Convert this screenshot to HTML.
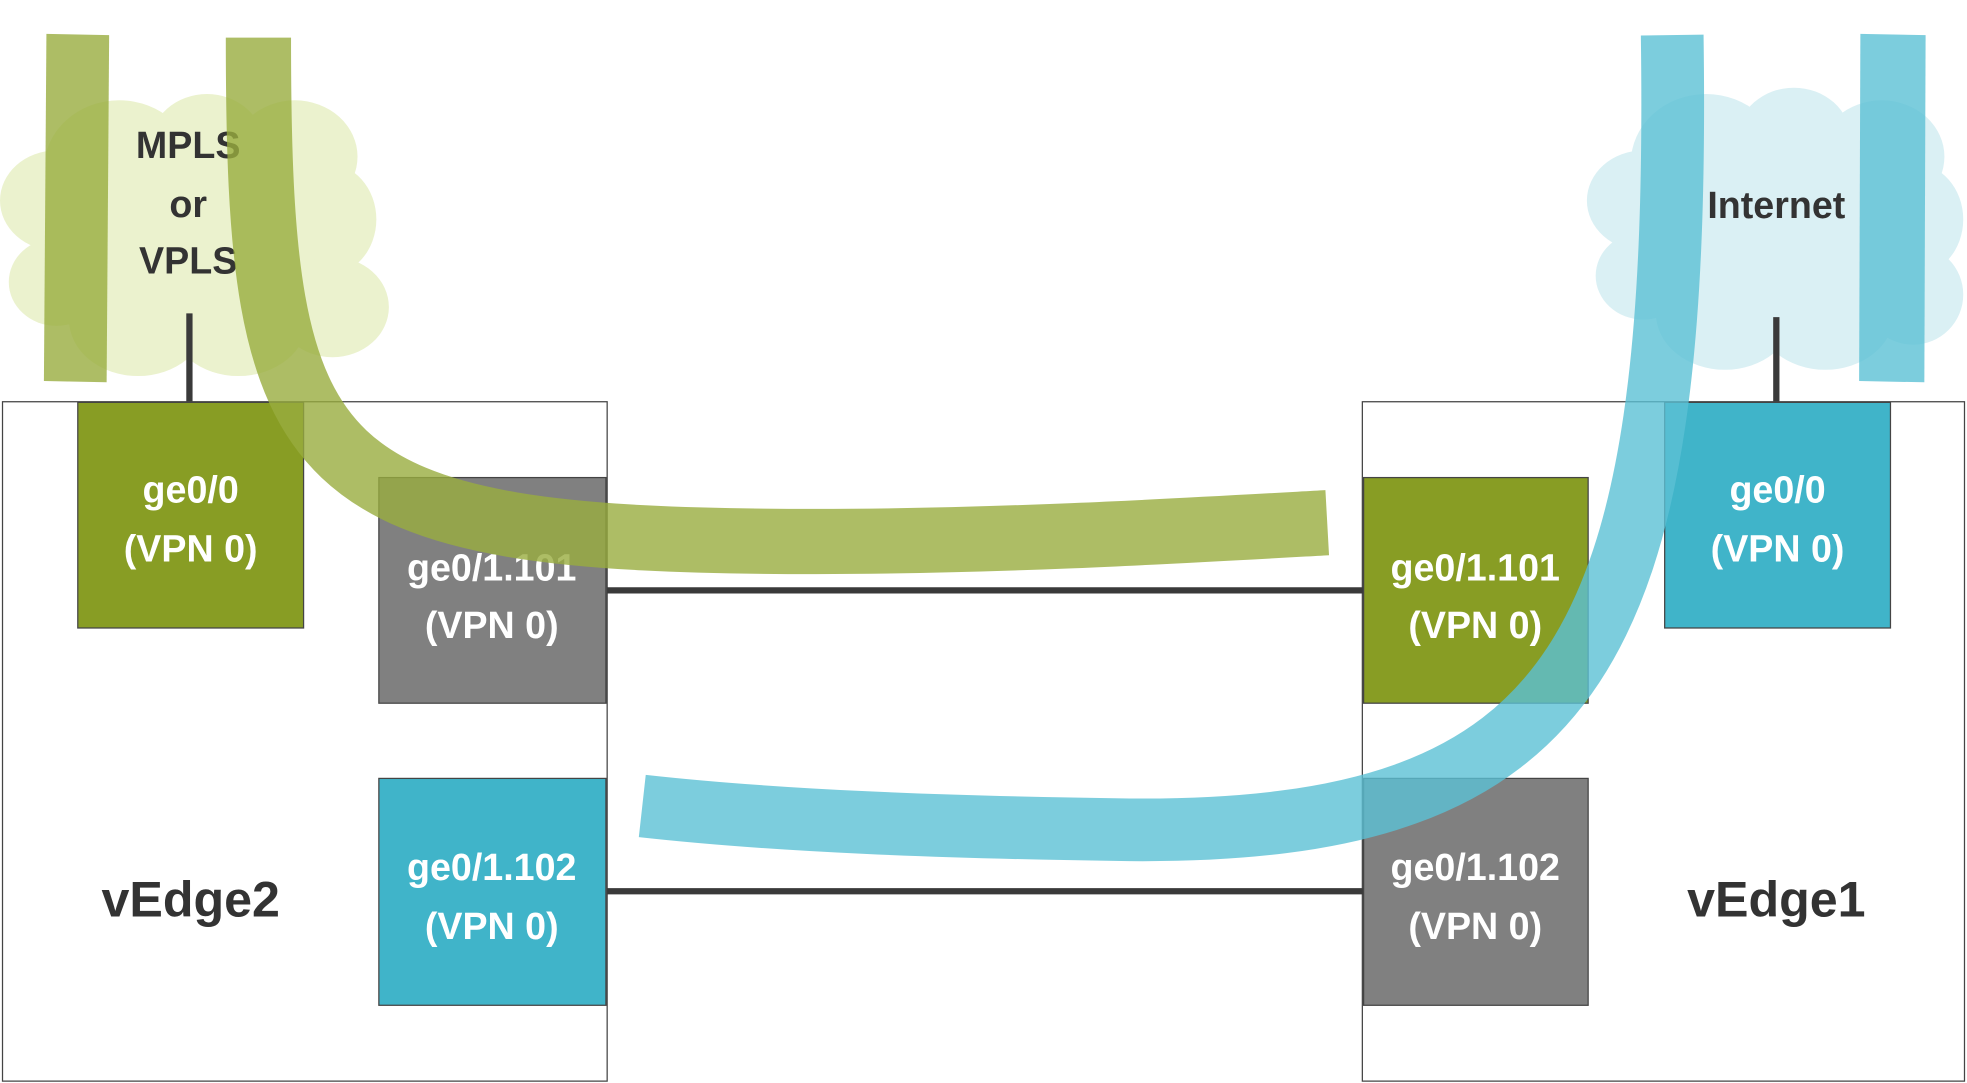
<!DOCTYPE html>
<html><head><meta charset="utf-8"><style>html,body{margin:0;padding:0;background:#fff}svg{display:block}</style></head><body>
<svg width="1967" height="1083" viewBox="0 0 1568 864" preserveAspectRatio="none" xmlns="http://www.w3.org/2000/svg" font-family="Liberation Sans, sans-serif" font-weight="bold">
<g fill="#EBF2CE">
<ellipse cx="150" cy="170" rx="120" ry="75"/><ellipse cx="95" cy="135" rx="60" ry="55"/><ellipse cx="165" cy="115" rx="45" ry="40"/><ellipse cx="235" cy="125" rx="50" ry="45"/><ellipse cx="260" cy="175" rx="40" ry="45"/><ellipse cx="45" cy="160" rx="45" ry="40"/><ellipse cx="45" cy="225" rx="38" ry="35"/><ellipse cx="110" cy="255" rx="55" ry="45"/><ellipse cx="190" cy="255" rx="55" ry="45"/><ellipse cx="265" cy="245" rx="45" ry="40"/>
</g>
<g fill="#DAF0F4">
<ellipse cx="1415" cy="170" rx="120" ry="75"/><ellipse cx="1360" cy="130" rx="60" ry="55"/><ellipse cx="1430" cy="110" rx="45" ry="40"/><ellipse cx="1500" cy="125" rx="50" ry="45"/><ellipse cx="1525" cy="175" rx="40" ry="45"/><ellipse cx="1310" cy="160" rx="45" ry="40"/><ellipse cx="1310" cy="220" rx="38" ry="35"/><ellipse cx="1375" cy="250" rx="55" ry="45"/><ellipse cx="1455" cy="250" rx="55" ry="45"/><ellipse cx="1525" cy="235" rx="40" ry="40"/>
</g>
<g fill="#333" font-size="30" text-anchor="middle">
<text x="150" y="126">MPLS</text><text x="150" y="173">or</text><text x="150" y="218">VPLS</text>
<text x="1416" y="174">Internet</text>
</g>
<line x1="151" y1="250" x2="151" y2="321" stroke="#3a3a3a" stroke-width="5"/>
<line x1="1416" y1="253" x2="1416" y2="321" stroke="#3a3a3a" stroke-width="5"/>
<rect x="2" y="320.5" width="482" height="542" fill="#fff" stroke="#444" stroke-width="1"/>
<rect x="1086" y="320.5" width="480" height="542" fill="#fff" stroke="#444" stroke-width="1"/>
<line x1="484" y1="471" x2="1087" y2="471" stroke="#3a3a3a" stroke-width="5"/>
<line x1="484" y1="711" x2="1087" y2="711" stroke="#3a3a3a" stroke-width="5"/>
<g stroke="#444" stroke-width="1">
<rect x="62" y="321" width="180" height="180" fill="#889D24"/>
<rect x="302" y="381" width="181" height="180" fill="#808080"/>
<rect x="302" y="621" width="181" height="181" fill="#40B4C9"/>
<rect x="1087" y="381" width="179" height="180" fill="#889D24"/>
<rect x="1087" y="621" width="179" height="181" fill="#808080"/>
<rect x="1327" y="321" width="180" height="180" fill="#40B4C9"/>
</g>
<g fill="#fff" font-size="30" text-anchor="middle">
<text x="152" y="401">ge0/0</text><text x="152" y="448">(VPN 0)</text>
<text x="392" y="463">ge0/1.101</text><text x="392" y="509">(VPN 0)</text>
<text x="392" y="702">ge0/1.102</text><text x="392" y="749">(VPN 0)</text>
<text x="1176" y="463">ge0/1.101</text><text x="1176" y="509">(VPN 0)</text>
<text x="1176" y="702">ge0/1.102</text><text x="1176" y="749">(VPN 0)</text>
<text x="1417" y="401">ge0/0</text><text x="1417" y="448">(VPN 0)</text>
</g>
<g fill="#333" font-size="40" text-anchor="middle">
<text x="152" y="731">vEdge2</text><text x="1416" y="731">vEdge1</text>
</g>
<polygon points="37,27 87,28 85,305 35,304" fill="#98AC3E" opacity="0.8"/>
<path d="M206,30 C206,380 240,432 650,432 C800,432 950,423 1058,417" fill="none" stroke="#98AC3E" stroke-width="52" opacity="0.8"/>
<polygon points="1483,27 1535,28 1534,305 1482,304" fill="#5BC0D4" opacity="0.8"/>
<path d="M1333,28 C1340,520 1260,665 900,662 C750,660 620,655 512,643" fill="none" stroke="#5BC0D4" stroke-width="50" opacity="0.8"/>
</svg>
</body></html>
